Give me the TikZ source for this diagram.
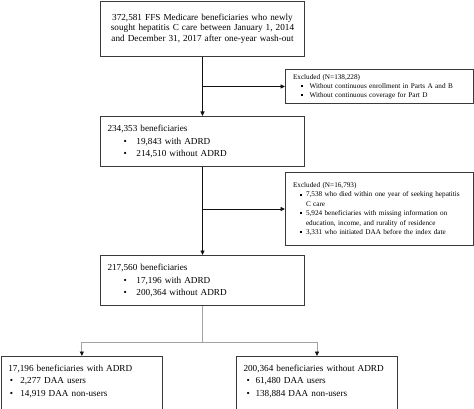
\documentclass[tikz,border=0pt]{standalone}
\usepackage{fontspec}
\setmainfont{Liberation Serif}
\usepackage{xcolor}
\usetikzlibrary{calc,positioning,arrows.meta}
\definecolor{color_box}{HTML}{3a3a3a}
\definecolor{color_line}{HTML}{111111}
\definecolor{color_split}{HTML}{a3a3a3}
\newcommand{\bitem}[2]{\hspace*{#1}\makebox[#2][l]{\textbullet}}
\newcommand{\sitem}[2]{\hspace*{#1}\makebox[#2][l]{\raisebox{1.3pt}{\rule{1.9pt}{1.9pt}}}}
\newcommand{\mainfont}{\fontsize{9.2}{12.3}\selectfont}
\newcommand{\exclfont}{\fontsize{7.2}{9.2}\selectfont}

\begin{document}
\begin{tikzpicture}[x=1pt,y=-1pt,
		box/.style={draw=color_box,line width=1pt,rectangle,anchor=north west,inner ysep=0pt,inner xsep=7pt,align=left,font=\mainfont},
		exclbox/.style={box,font=\exclfont,inner xsep=7.5pt},
		arr/.style={draw=color_line,line width=0.8pt,-{Triangle[length=4.5pt,width=4pt]}},
		splitline/.style={draw=color_split,line width=0.8pt},
		splitarr/.style={splitline,-{Triangle[length=4.5pt,width=4pt,color=color_line]}}]
				\useasboundingbox (0, 0) rectangle (474, 409);
				% Boxes
				\node[box,align=center,minimum width=204pt,minimum height=55pt,text width=190pt,font=\fontsize{9.2}{10.7}\selectfont]
					(sought) at (100, 0.6)
					{372,581 FFS Medicare beneficiaries who newly\\
					sought hepatitis C care between January 1, 2014\\
					and December 31, 2017 after one-year wash-out};
				\node[exclbox,minimum width=188pt,minimum height=34pt,text width=173pt]
					(exclA) at (285, 69)
					{Excluded (N=138,228)\\
					\sitem{8pt}{8.5pt}Without continuous enrollment in Parts A and B\\
					\sitem{8pt}{8.5pt}Without continuous coverage for Part D};
				\node[box,minimum width=204pt,minimum height=50pt,text width=190pt]
					(washed) at (100, 116)
					{234,353 beneficiaries\\
					\bitem{16pt}{13pt}19,843 with ADRD\\
					\bitem{16pt}{13pt}214,510 without ADRD};
				\node[exclbox,minimum width=188pt,minimum height=73pt,text width=173pt,font=\fontsize{7.2}{9.4}\selectfont]
					(exclB) at (285, 172)
					{Excluded (N=16,793)\\
					\sitem{7pt}{6pt}7,538 who died within one year of seeking hepatitis\\
					\hspace*{13pt}C care\\
					\sitem{7pt}{6pt}5,924 beneficiaries with missing information on\\
					\hspace*{13pt}education, income, and rurality of residence\\
					\sitem{7pt}{6pt}3,331 who initiated DAA before the index date};
				\node[box,minimum width=204pt,minimum height=50pt,text width=190pt]
					(cohort) at (100, 255)
					{217,560 beneficiaries\\
					\bitem{16pt}{13pt}17,196 with ADRD\\
					\bitem{16pt}{13pt}200,364 without ADRD};
				\node[box,minimum width=161.5pt,text width=147pt,inner ysep=8.5pt,text depth=40pt]
					(adrd) at (0.6, 356)
					{17,196 beneficiaries with ADRD\\
					\bitem{1.5pt}{10.5pt}2,277 DAA users\\
					\bitem{1.5pt}{10.5pt}14,919 DAA non-users};
				\node[box,minimum width=161pt,text width=147pt,inner ysep=8.5pt,text depth=40pt]
					(noadrd) at (236, 356)
					{200,364 beneficiaries without ADRD\\
					\bitem{3pt}{9pt}61,480 DAA users\\
					\bitem{3pt}{9pt}138,884 DAA non-users};

				% Points
				\coordinate (split) at ($(cohort.south)+(0,36)$);

				% Main flow
				\draw[arr] (sought.south) -- (washed.north);
				\draw[arr] (washed.south) -- (cohort.north);

				% Exclusions
				\draw[arr] (sought.south |- exclA.west) -- (exclA.west);
				\draw[arr] (washed.south |- exclB.west) -- (exclB.west);

				% Split by ADRD
				\draw[splitline] (cohort.south) -- (split);
				\draw[splitline] (split -| adrd.north) -- (split -| noadrd.north);
				\draw[splitarr] (split -| adrd.north) -- (adrd.north);
				\draw[splitarr] (split -| noadrd.north) -- (noadrd.north);
			\end{tikzpicture}
\end{document}
